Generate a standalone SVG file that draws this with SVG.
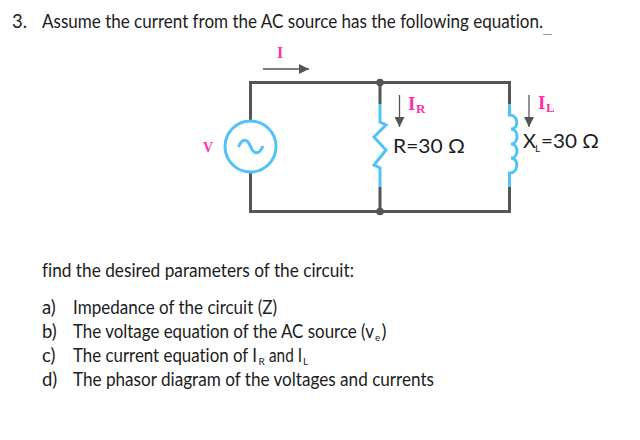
<svg xmlns="http://www.w3.org/2000/svg" width="640" height="440" viewBox="0 0 640 440">
<defs>
<style>
.t{font-family:"Lato","Liberation Sans",sans-serif;font-size:18.500px;fill:#1c1c1c;font-variant-ligatures:none}
.l{font-size:20px}
.s{font-family:"Lato","Liberation Sans",sans-serif;font-size:10px;fill:#1c1c1c}
.m{font-family:"Liberation Serif",serif;font-weight:bold;fill:#ff2fa8}
.w{fill:none;stroke:#555;stroke-width:3}
.b{fill:none;stroke:#4fc3f7;stroke-width:3}
.a{fill:none;stroke:#555;stroke-width:1.300}
</style>
<marker id="ah" markerUnits="userSpaceOnUse" markerWidth="11" markerHeight="10" refX="10" refY="5" orient="auto"><path d="M0 0L10 5L0 10Z" fill="#555"/></marker>
</defs>
<rect width="640" height="440" fill="#fff"/>
<g id="question">
<text class="t" x="12" y="28">3.</text>
<text class="t" x="42" y="28" textLength="501" lengthAdjust="spacingAndGlyphs">Assume the current from the AC source has the following equation.</text>
<path d="M543 34.500h9" stroke="#999" stroke-width="1"/>
<text class="t" x="42" y="277" textLength="312" lengthAdjust="spacingAndGlyphs">find the desired parameters of the circuit:</text>
<text class="t" x="42" y="314">a)</text>
<text class="t" x="73" y="314" textLength="204" lengthAdjust="spacingAndGlyphs">Impedance of the circuit (Z)</text>
<text class="t" x="42" y="338">b)</text>
<text class="t" x="73" y="338" textLength="301" lengthAdjust="spacingAndGlyphs">The voltage equation of the AC source (v</text>
<text class="s" x="375" y="341">e</text>
<text class="t" x="381.500" y="338">)</text>
<text class="t" x="42" y="362">c)</text>
<text class="t" x="73" y="362" textLength="184" lengthAdjust="spacingAndGlyphs">The current equation of I</text>
<text class="s" x="258.500" y="365">R</text>
<text class="t" x="269" y="362" textLength="33" lengthAdjust="spacingAndGlyphs">and I</text>
<text class="s" x="303" y="365">L</text>
<text class="t" x="42" y="386">d)</text>
<text class="t" x="73" y="386" textLength="361" lengthAdjust="spacingAndGlyphs">The phasor diagram of the voltages and currents</text>
</g>
<g id="connectors">
<path class="w" d="M250.500 120V82.500H509.500V104M509.500 187V211.500H250.500V173"/>
<path class="w" d="M380 82.500V104M380 187V211.500"/>
<path class="a" marker-end="url(#ah)" d="M263 69H309"/>
<path class="a" marker-end="url(#ah)" d="M399.500 95V127"/>
<path class="a" marker-end="url(#ah)" d="M529 95V127"/>
</g>
<g id="source">
<circle class="b" cx="250.500" cy="146.500" r="25.500" fill="#fff"/>
<path class="b" d="M238.500 147C242 138 247 138 250.500 146.500S259 155 263 146"/>
<text class="m" x="203" y="152" style="font-size:14px">V</text>
</g>
<g id="junction-top"><circle cx="380" cy="82.500" r="3.800" fill="#555"/></g>
<g id="junction-bottom"><circle cx="380" cy="211.500" r="3.800" fill="#555"/></g>
<g id="resistor">
<path class="b" d="M380 104V122L386 125L374 137L386 150L374 165L380 168V187"/>
<text class="t l" x="393" y="153" textLength="72" lengthAdjust="spacingAndGlyphs">R=30 Ω</text>
</g>
<g id="inductor">
<path class="b" d="M509.500 104V115C519 115 519 129 511 129C519 129 519 144 511 144C519 144 519 158 511 158C519 158 519 173 509.500 173V187"/>
<text class="t l" x="523" y="148">X</text>
<text class="s" x="535" y="152">L</text>
<text class="t l" x="541" y="148" textLength="58" lengthAdjust="spacingAndGlyphs">=30 Ω</text>
</g>
<g id="labels">
<text class="m" x="277" y="58" style="font-size:16px">I</text>
<text class="m" x="408" y="110" style="font-size:19px">I</text>
<text class="m" x="416" y="113" style="font-size:13px">R</text>
<text class="m" x="538" y="109" style="font-size:19px">I</text>
<text class="m" x="546" y="112" style="font-size:13px">L</text>
</g>
</svg>
